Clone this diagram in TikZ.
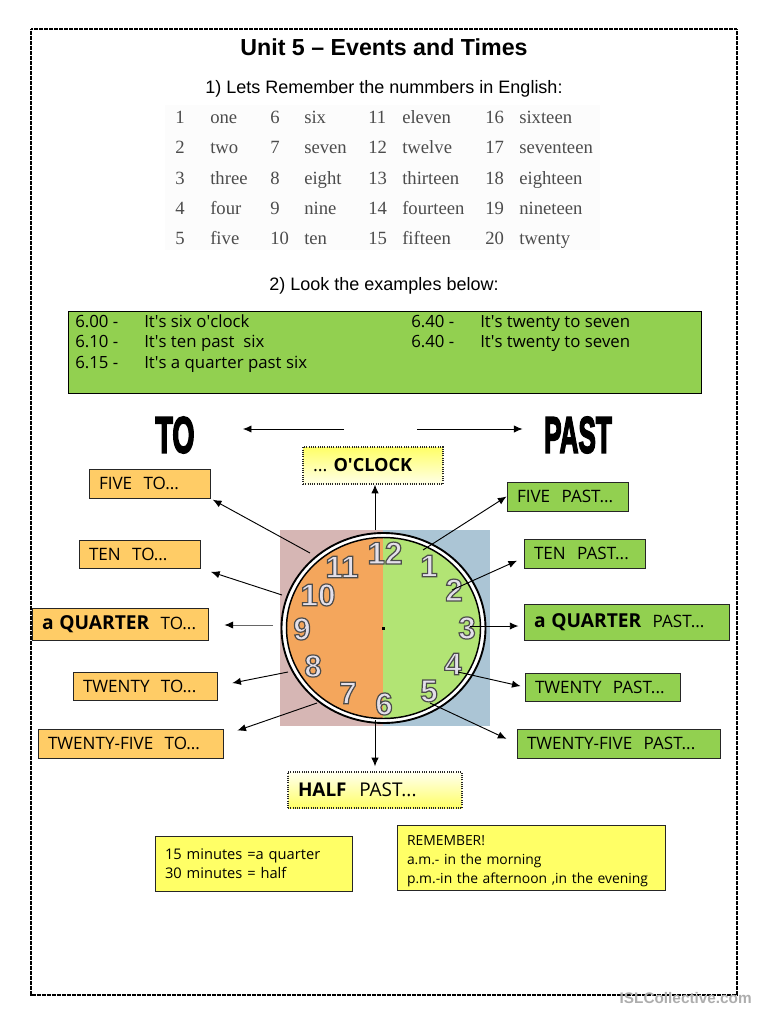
\documentclass[tikz,border=0pt]{standalone}
\usepackage{fontspec}
\setmainfont{Open Sans}
\newfontfamily\arialfont{Liberation Sans}
\newfontfamily\timesfont{Liberation Serif}
\usetikzlibrary{arrows.meta}
\definecolor{boxgreen}{HTML}{92D050}
\definecolor{boxorange}{HTML}{FFCC66}
\definecolor{boxyellow}{HTML}{FFFF66}
\definecolor{clockorange}{HTML}{F4A65C}
\definecolor{clockgreen}{HTML}{B2E474}
\definecolor{clockpink}{HTML}{D6B6B4}
\definecolor{clockblue}{HTML}{ABC5D5}
\definecolor{clockdigit}{HTML}{E4E0EA}
\newcommand{\outlined}[3]{\special{pdf:code #1 RG #2 w 2 Tr}#3\special{pdf:code 0 Tr}}
\newcommand{\digit}[1]{\outlined{0.3 0.3 0.3}{0.9}{#1}}
\tikzset{
  numtext/.style={anchor=base west,inner sep=0pt,text=black!70,font=\timesfont\fontsize{14}{16}\selectfont},
  rowtext/.style={anchor=base west,inner sep=0pt,font=\fontsize{12.6}{15}\selectfont},
  headtext/.style={inner sep=0pt,font=\arialfont\fontsize{13.5}{16}\selectfont},
  clocknum/.style={inner sep=0pt,font=\arialfont\bfseries\fontsize{23.5}{26}\selectfont,text=clockdigit},
  bigword/.style={inner sep=0pt,font=\arialfont\bfseries\fontsize{22.5}{26}\selectfont},
  labelbox/.style={draw=black!85,line width=.7pt,inner xsep=7.5pt,inner ysep=0pt,align=left,
    font=\fontsize{12.8}{15}\selectfont},
  tobox/.style={labelbox,fill=boxorange},
  pastbox/.style={labelbox,fill=boxgreen},
  dotbox/.style={labelbox,densely dotted,line width=1pt},
  notebox/.style={draw=black!85,line width=.7pt,fill=boxyellow,inner xsep=7.5pt,inner ysep=0pt,align=left},
  hand/.style={line width=.7pt,-{Latex[length=6.5pt,width=5.5pt,color=black]}}
}
\newcommand{\quarterword}{\textbf{\fontsize{14.4}{15}\selectfont a QUARTER}}
\begin{document}
\begin{tikzpicture}[x=.75pt,y=-.75pt]
\useasboundingbox (0,0) rectangle (768,1024);
\draw[line width=1.1pt,dash pattern=on .9pt off .35pt] (31,29) rectangle (737,995);
\node[inner sep=0pt,font=\arialfont\bfseries\fontsize{17.4}{20}\selectfont] (title) at (384,47) {Unit 5 – Events and Times};
\node[headtext] (headone) at (384,89) {1) Lets Remember the nummbers in English:};
\node[headtext] (headtwo) at (384,286) {2) Look the examples below:};
% numbers
\fill[black!1] (165,105) rectangle (600,250);
\node[numtext] (n1) at (175,123) {1};
\node[numtext] (w1) at (210,123) {one};
\node[numtext] (n2) at (175,153) {2};
\node[numtext] (w2) at (210,153) {two};
\node[numtext] (n3) at (175,184) {3};
\node[numtext] (w3) at (210,184) {three};
\node[numtext] (n4) at (175,214) {4};
\node[numtext] (w4) at (210,214) {four};
\node[numtext] (n5) at (175,244) {5};
\node[numtext] (w5) at (210,244) {five};
\node[numtext] (n6) at (270,123) {6};
\node[numtext] (w6) at (304,123) {six};
\node[numtext] (n7) at (270,153) {7};
\node[numtext] (w7) at (304,153) {seven};
\node[numtext] (n8) at (270,184) {8};
\node[numtext] (w8) at (304,184) {eight};
\node[numtext] (n9) at (270,214) {9};
\node[numtext] (w9) at (304,214) {nine};
\node[numtext] (n10) at (270,244) {10};
\node[numtext] (w10) at (304,244) {ten};
\node[numtext] (n11) at (368,123) {11};
\node[numtext] (w11) at (402,123) {eleven};
\node[numtext] (n12) at (368,153) {12};
\node[numtext] (w12) at (402,153) {twelve};
\node[numtext] (n13) at (368,184) {13};
\node[numtext] (w13) at (402,184) {thirteen};
\node[numtext] (n14) at (368,214) {14};
\node[numtext] (w14) at (402,214) {fourteen};
\node[numtext] (n15) at (368,244) {15};
\node[numtext] (w15) at (402,244) {fifteen};
\node[numtext] (n16) at (485,123) {16};
\node[numtext] (w16) at (519,123) {sixteen};
\node[numtext] (n17) at (485,153) {17};
\node[numtext] (w17) at (519,153) {seventeen};
\node[numtext] (n18) at (485,184) {18};
\node[numtext] (w18) at (519,184) {eighteen};
\node[numtext] (n19) at (485,214) {19};
\node[numtext] (w19) at (519,214) {nineteen};
\node[numtext] (n20) at (485,244) {20};
\node[numtext] (w20) at (519,244) {twenty};
% examples
\fill[boxgreen,draw=black,line width=.7pt] (68,311) rectangle (701,393);
\node[rowtext] (ta) at (75,327) {6.00 -};
\node[rowtext] (sa) at (144,327) {It\textquotesingle s six o\textquotesingle clock};
\node[rowtext] (tb) at (75,347.5) {6.10 -};
\node[rowtext] (sb) at (144,347.5) {It\textquotesingle s ten past\ \ six};
\node[rowtext] (tc) at (75,368) {6.15 -};
\node[rowtext] (sc) at (144,368) {It\textquotesingle s a quarter past six};
\node[rowtext] (td) at (411,327) {6.40 -};
\node[rowtext] (sd) at (480,327) {It\textquotesingle s twenty to seven};
\node[rowtext] (te) at (411,347.5) {6.40 -};
\node[rowtext] (se) at (480,347.5) {It\textquotesingle s twenty to seven};
% to and past
\node[bigword] (tolabel) at (175,435) {\scalebox{.95}[1.7]{\outlined{0 0 0}{0.9}{TO}}};
\node[bigword] (pastlabel) at (578,435) {\scalebox{.87}[1.7]{\outlined{0 0 0}{0.9}{PAST}}};
\coordinate (toend) at (344,429);
\coordinate (pastend) at (417,429);
\draw[hand,shorten >=36pt] (toend) -- (toend -| tolabel.east);
\draw[hand,shorten >=16pt] (pastend) -- (pastend -| pastlabel.west);
% clock
\fill[clockpink] (280,530) rectangle (383,726);
\fill[clockblue] (383,530) rectangle (490,726);
\draw[line width=1.4pt,fill=white] (383.5,628) ellipse [x radius=102,y radius=95];
\begin{scope}
\clip (383.5,628) ellipse [x radius=97,y radius=90.5];
\fill[clockorange] (280,530) rectangle (383,726);
\fill[clockgreen] (383,530) rectangle (490,726);
\end{scope}
\draw[line width=1.1pt] (383.5,628) ellipse [x radius=97,y radius=90.5];
\fill[black] (382,627) rectangle (385,630);
\node[clocknum] (h12) at (385,553) {\digit{12}};
\node[clocknum] (h11) at (342,567) {\digit{11}};
\node[clocknum] (h10) at (318,595) {\digit{10}};
\node[clocknum] (h9) at (302,629) {\digit{9}};
\node[clocknum] (h8) at (313,666) {\digit{8}};
\node[clocknum] (h7) at (348,693) {\digit{7}};
\node[clocknum] (h6) at (384,704) {\digit{6}};
\node[clocknum] (h5) at (429,691) {\digit{5}};
\node[clocknum] (h4) at (453,664) {\digit{4}};
\node[clocknum] (h3) at (467,628) {\digit{3}};
\node[clocknum] (h2) at (454,590) {\digit{2}};
\node[clocknum] (h1) at (429,566) {\digit{1}};
% boxes
\node[dotbox,top color=boxyellow,bottom color=boxyellow!15,text width=90pt,minimum height=27.75pt,font=\bfseries\fontsize{13.6}{15}\selectfont] (oclock) at (373,465.5) {\mdseries...\ \bfseries O\textquotesingle CLOCK};
\node[dotbox,top color=boxyellow!10,bottom color=boxyellow,text width=115.5pt,minimum height=27pt,font=\fontsize{14.2}{15}\selectfont] (halfpast) at (375,790) {\textbf{HALF}\ \ PAST...};
\node[tobox,text width=75.75pt,minimum height=21.75pt] (fiveto) at (149.5,483.5) {FIVE\ \ TO...};
\node[tobox,text width=75.75pt,minimum height=21pt] (tento) at (139.5,554) {TEN\ \ TO...};
\node[tobox,text width=117pt,minimum height=23.6pt] (quarterto) at (120,624.25) {\quarterword\ \ TO...};
\node[tobox,text width=93pt,minimum height=21pt] (twentyto) at (145,686) {TWENTY\ \ TO...};
\node[tobox,text width=123.75pt,minimum height=21.75pt] (twentyfiveto) at (130.5,743.5) {TWENTY-FIVE\ \ TO...};
\node[pastbox,text width=75.75pt,minimum height=21.75pt] (fivepast) at (567.5,496.5) {FIVE\ \ PAST...};
\node[pastbox,text width=75.75pt,minimum height=21.75pt] (tenpast) at (584.5,553.5) {TEN\ \ PAST...};
\node[pastbox,text width=138.75pt,minimum height=27pt] (quarterpast) at (626.5,622) {\quarterword\ \ PAST...};
\node[pastbox,text width=101.25pt,minimum height=21pt] (twentypast) at (602.5,687) {TWENTY\ \ PAST...};
\node[pastbox,text width=137.25pt,minimum height=21.75pt] (twentyfivepast) at (618.5,743.5) {TWENTY-FIVE\ \ PAST...};
\node[notebox,text width=132.75pt,minimum height=41.25pt,font=\fontsize{11}{14.25}\selectfont] (minutes) at (253.5,863.5) {15 minutes =a quarter\\30 minutes = half};
\node[notebox,text width=186pt,minimum height=48.75pt,font=\fontsize{10.4}{14.6}\selectfont] (remember) at (531,857.5) {\rule{0pt}{13pt}REMEMBER!\\a.m.- in the morning\\p.m.-in the afternoon ,in the evening};
% hands
\coordinate (c12) at (375,530);
\coordinate (c11) at (310,553);
\coordinate (c10) at (282,595);
\coordinate (c9) at (273,625);
\coordinate (c8) at (288,672);
\coordinate (c7) at (317,703);
\coordinate (c6) at (375,720);
\coordinate (c5) at (430,703);
\coordinate (c4) at (458,672);
\coordinate (c3) at (470,626);
\coordinate (c2) at (452,590);
\coordinate (c1) at (423,550);
\draw[hand] (c12) -- (c12 |- oclock.south);
\draw[hand,shorten >=2pt] (c11) -- (fiveto.south east);
\draw[hand,shorten >=8.3pt] (c10) -- (tento.south east);
\draw[hand,black!60,shorten >=12pt] (c9) -- (c9 -| quarterto.east);
\draw[hand,shorten >=11.3pt] (c8) -- (twentyto.east);
\draw[hand,shorten >=11pt] (c7) -- (twentyfiveto.5);
\draw[hand,shorten >=3.7pt] (c6) -- (halfpast.north);
\draw[hand,shorten >=8.3pt] (c5) -- (twentyfivepast.west);
\draw[hand,shorten >=3pt] (c4) -- (twentypast.west);
\draw[hand,shorten >=3.8pt] (c3) -- (c3 -| quarterpast.west);
\draw[hand,shorten >=5.3pt] (c2) -- (tenpast.184);
\draw[hand] (c1) -- (fivepast.west);
\node[inner sep=0pt,anchor=east,text=black!32,font=\arialfont\bfseries\fontsize{11.5}{14}\selectfont] (mark) at (752,998) {ISLCollective.com};
\end{tikzpicture}
\end{document}
